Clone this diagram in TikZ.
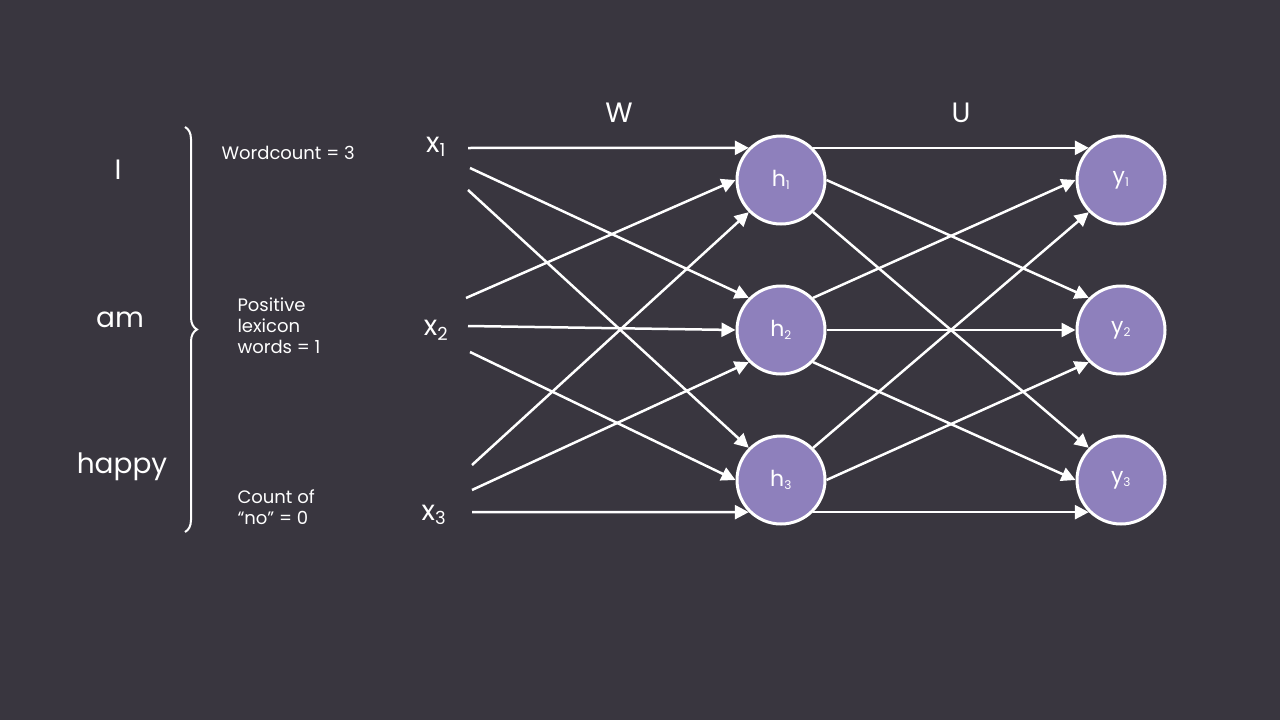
\documentclass[tikz,border=0pt]{standalone}
\usepackage{fontspec}
\setmainfont{Poppins}
\usetikzlibrary{decorations.pathreplacing,arrows.meta}
\definecolor{bg}{HTML}{39363F}
\definecolor{nd}{HTML}{8E80BC}
\begin{document}
\begin{tikzpicture}[x=1pt,y=-1pt,
  neu/.style={circle,fill=nd,draw=white,line width=3pt,minimum size=88pt,inner sep=0pt,text=white,font=\fontsize{22}{24}\selectfont},
  con/.style={white,line width=2.5pt,-{Triangle[length=14pt,width=14pt]}},
  word/.style={text=white,font=\fontsize{28}{30}\selectfont},
  lab/.style={text=white,font=\fontsize{18}{21}\selectfont,align=left,anchor=west}]
\fill[bg] (0,0) rectangle (1280,720);
\useasboundingbox (0,0) rectangle (1280,720);
\foreach \i/\y in {1/180,2/330,3/480}{
  \node[neu] (h\i) at (781,\y) {h\textsubscript{\fontsize{12}{12}\selectfont\i}};
  \node[neu] (y\i) at (1121,\y) {y\textsubscript{\fontsize{12}{12}\selectfont\i}};
}
\node[word] (xl1) at (436,147) {x\textsubscript{\fontsize{18}{18}\selectfont 1}};
\node[word] (xl2) at (436,330) {x\textsubscript{\fontsize{18}{18}\selectfont 2}};
\node[word] (xl3) at (434,515) {x\textsubscript{\fontsize{18}{18}\selectfont 3}};
\coordinate (x11) at (468,148); \coordinate (x12) at (470,168); \coordinate (x13) at (468,190);
\coordinate (x21) at (466,298); \coordinate (x22) at (468,326); \coordinate (x23) at (470,352);
\coordinate (x31) at (472,465); \coordinate (x32) at (472,490); \coordinate (x33) at (472,512);
\foreach \i/\a in {1/135,2/180,3/225}{
  \foreach \j/\b in {1/45,2/0,3/-45}{
    \draw[con] (x\i\j) -- (h\j.\a);
    \draw[con] (h\i.\b) -- (y\j.\a);
  }
}
\node[word] (W) at (619,113) {W};
\node[word] (U) at (961,113) {U};
\node[word] (w1) at (118,170) {I};
\node[word] (w2) at (120,320) {am};
\node[word] (w3) at (122,467) {happy};
\draw[white,line width=2pt,decorate,decoration={brace,amplitude=12pt}] (185,127) -- (185,532);
\node[lab] (l1) at (218,153) {Wordcount = 3};
\node[lab] (l2) at (234,326) {Positive\\lexicon\\words = 1};
\node[lab] (l3) at (234,507) {Count of\\“no” = 0};
\end{tikzpicture}
\end{document}
